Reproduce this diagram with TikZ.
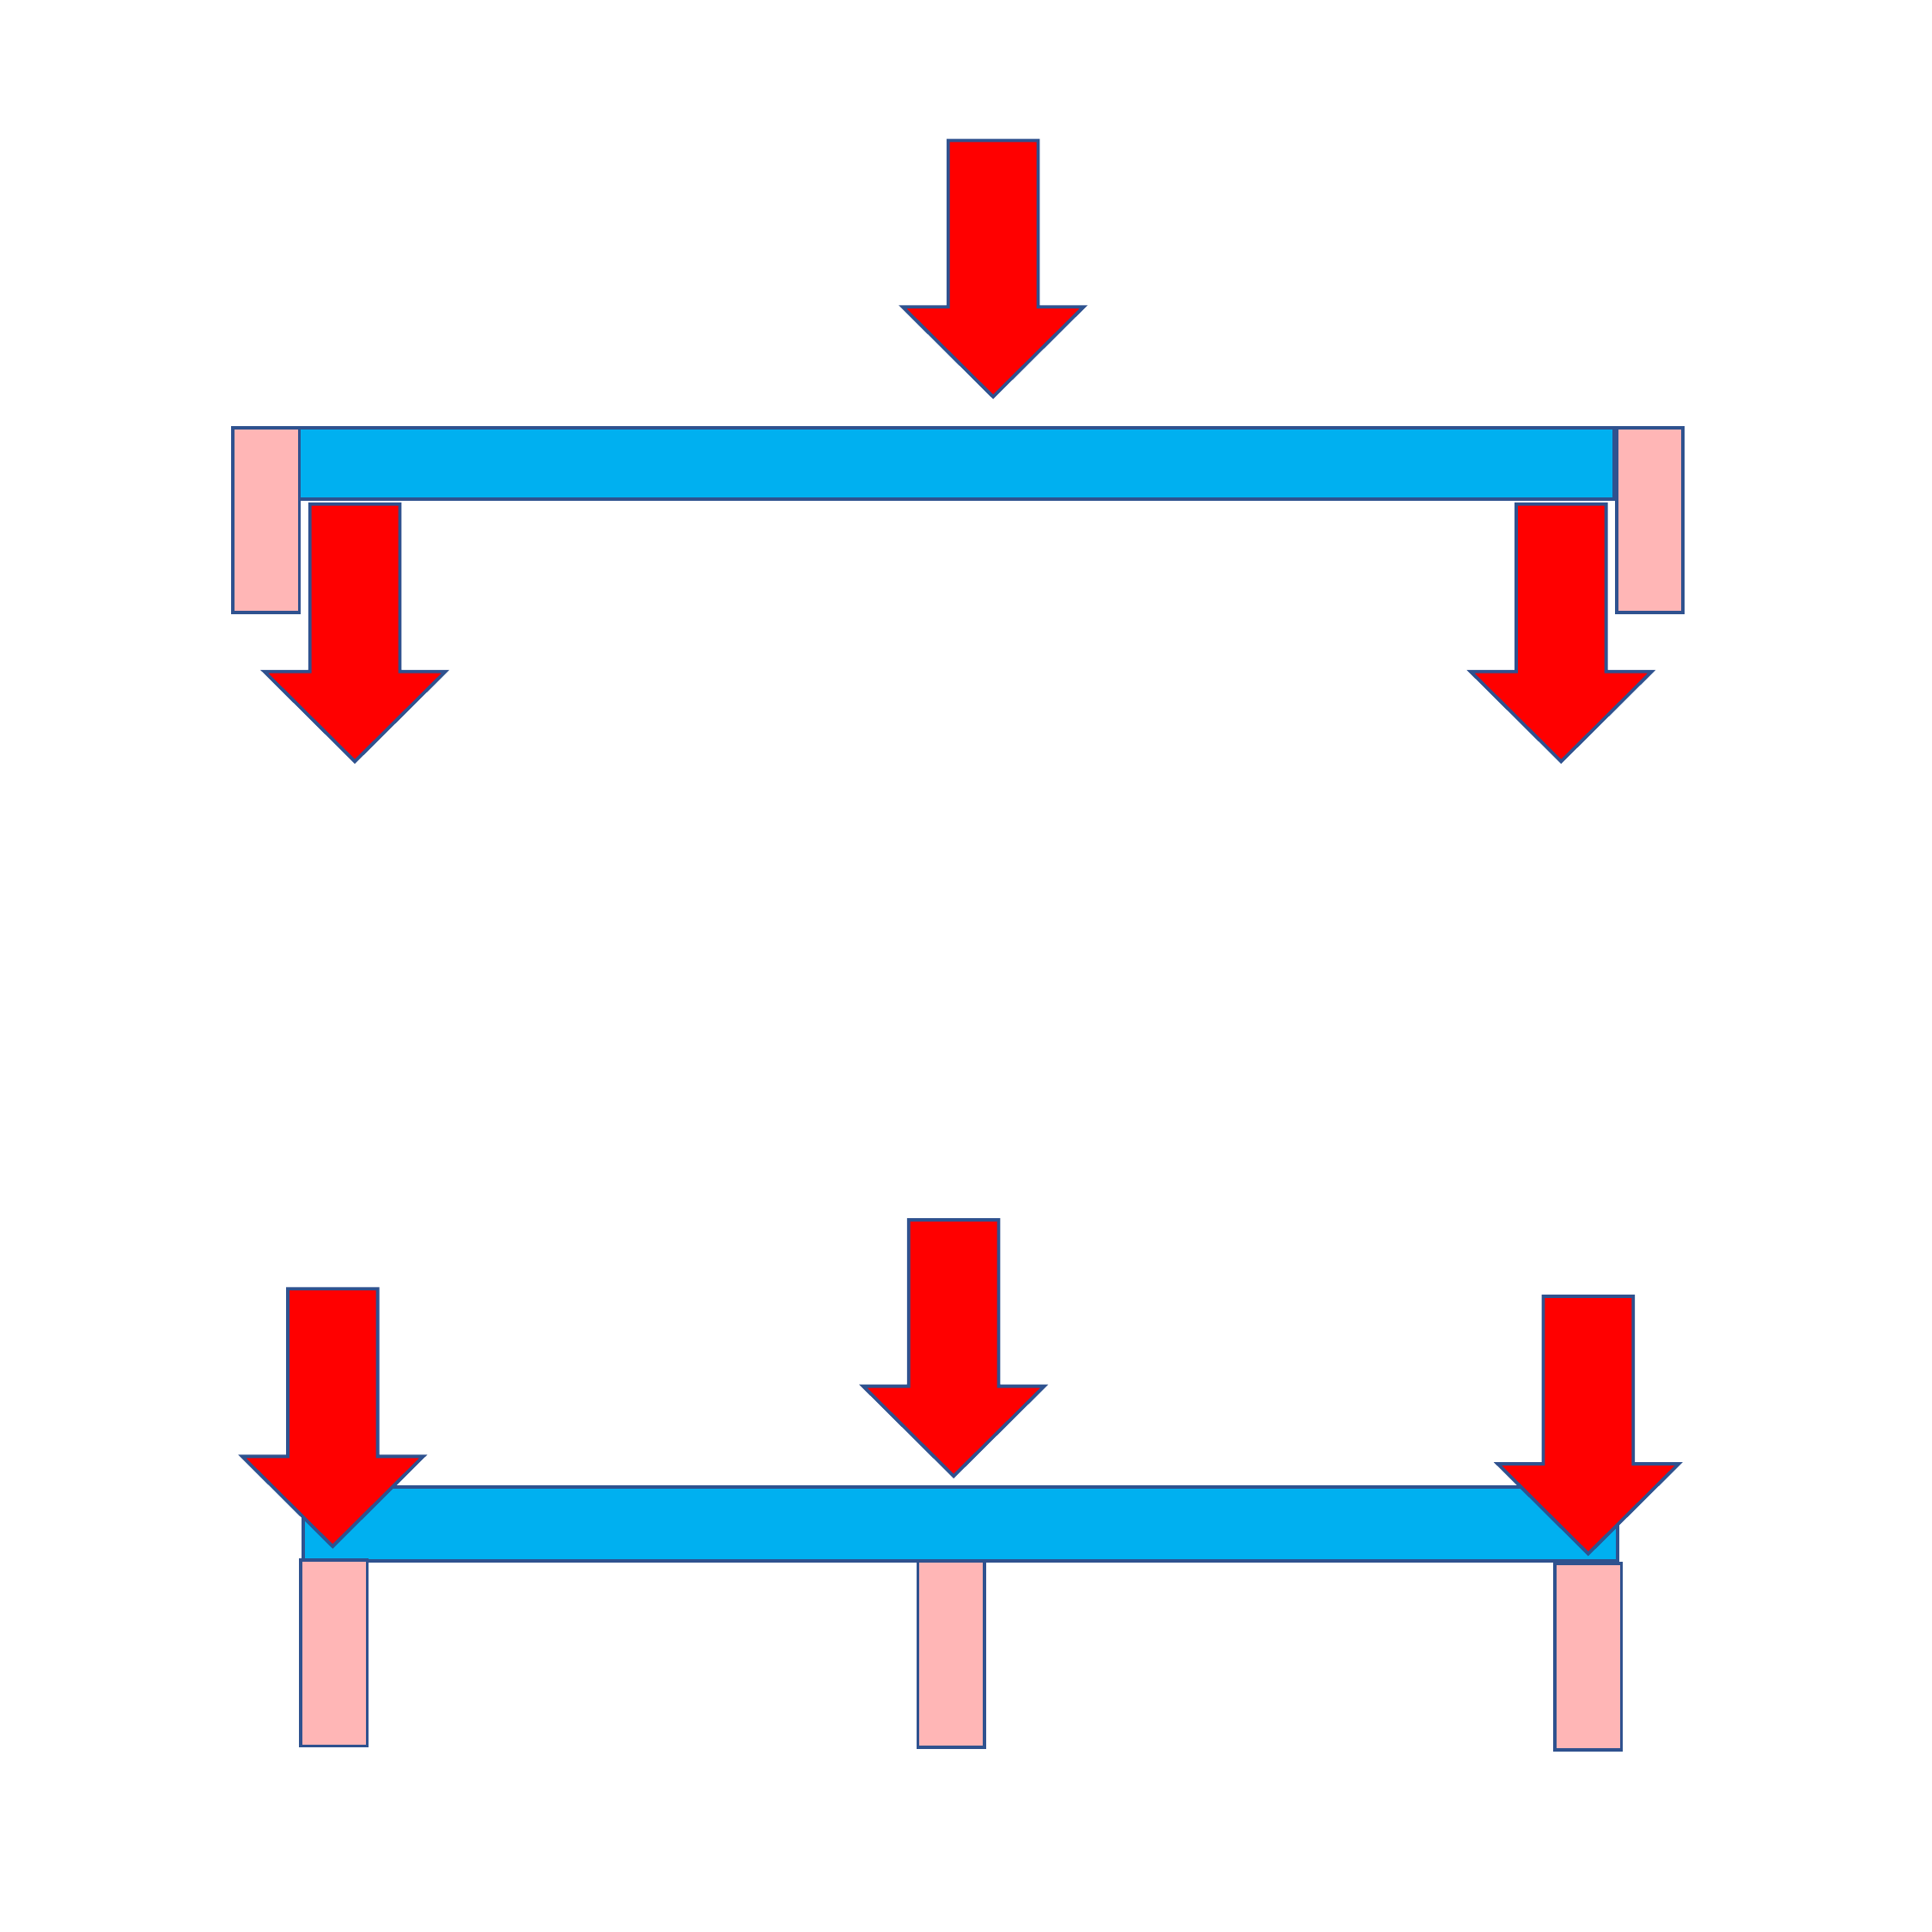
\documentclass[tikz,border=0pt]{standalone}
\usepackage{xcolor}
\definecolor{beamblue}{HTML}{00B0F0}
\definecolor{padpink}{HTML}{FFB6B6}
\definecolor{edgeblue}{HTML}{2F528F}
\tikzset{
  beam/.style={fill=beamblue, draw=edgeblue, line width=0.75pt},
  pad/.style={fill=padpink, draw=edgeblue, line width=0.75pt},
  load/.style={fill=red, draw=edgeblue, line width=0.75pt, line join=miter},
}
\begin{document}
\begin{tikzpicture}[x=0.01cm, y=0.01cm]

\useasboundingbox (0,0) rectangle (1568,-1568);

% top: beam on two end pads
\draw[beam] (243,-347) rectangle (1310,-405);

\draw[pad] (189,-347) rectangle (243,-497);

\draw[pad] (1312,-347) rectangle (1366,-497);


\draw[load] (806,-322) -- ++(73.5,73) -- ++(-37,0) -- ++(0,135) -- ++(-73,0) -- ++(0,-135) -- ++(-37,0) -- cycle;

\draw[load] (288,-618) -- ++(73.5,73) -- ++(-37,0) -- ++(0,136) -- ++(-73,0) -- ++(0,-136) -- ++(-37,0) -- cycle;

\draw[load] (1267,-618) -- ++(73.5,73) -- ++(-37,0) -- ++(0,136) -- ++(-73,0) -- ++(0,-136) -- ++(-37,0) -- cycle;



% bottom: beam on three pads
\draw[beam] (246,-1207) rectangle (1313,-1267);

\draw[pad] (244,-1266) rectangle (298,-1417);

\draw[pad] (745,-1267) rectangle (799,-1418);

\draw[pad] (1262,-1269) rectangle (1316,-1420);


\draw[load] (270,-1255) -- ++(73.5,73) -- ++(-37,0) -- ++(0,136) -- ++(-73,0) -- ++(0,-136) -- ++(-37,0) -- cycle;

\draw[load] (774,-1198) -- ++(73.5,73) -- ++(-37,0) -- ++(0,135) -- ++(-73,0) -- ++(0,-135) -- ++(-37,0) -- cycle;

\draw[load] (1289,-1261) -- ++(73.5,73) -- ++(-37,0) -- ++(0,136) -- ++(-73,0) -- ++(0,-136) -- ++(-37,0) -- cycle;

\end{tikzpicture}
\end{document}
